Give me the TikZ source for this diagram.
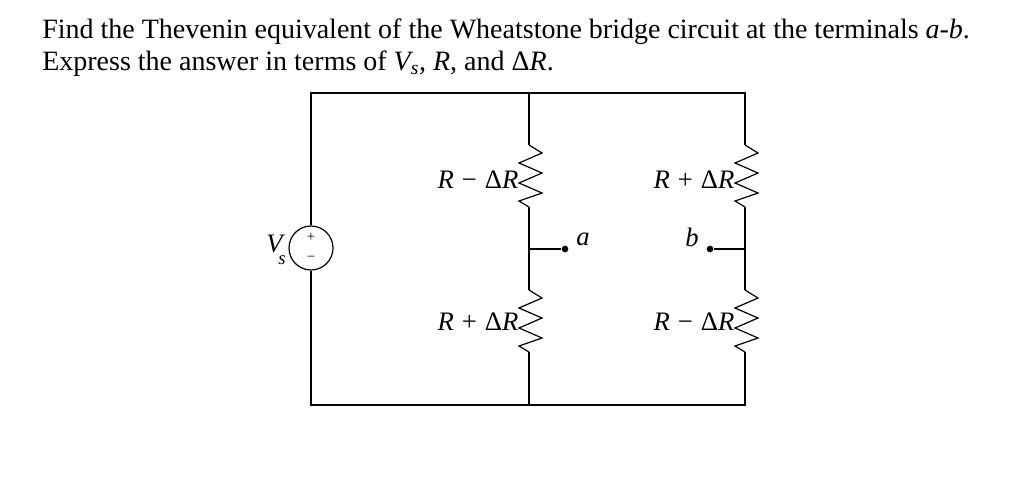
\documentclass[tikz,border=0pt]{standalone}
\usepackage{fontspec}
\setmainfont{Liberation Serif}
\usetikzlibrary{positioning}
\tikzset{
  wire/.style={black, line width=0.9pt},
  term/.style={circle, fill=black, inner sep=0pt, minimum size=5pt},
  lbl/.style={font=\fontsize{20}{22}\selectfont, inner sep=1pt},
  res/.pic={
    \coordinate (-top) at (0,0);
    \coordinate (-bot) at (0,-62);
    \draw[wire] (-top) -- (13,-8) -- (-10,-18) -- (13,-28) -- (-10,-38) -- (13,-48) -- (-10,-56) -- (-bot);
  }
}
\newcommand{\rpm}[1]{\textit{R}\hspace{0.3em}#1\hspace{0.3em}Δ\textit{R}}
\begin{document}
\begin{tikzpicture}[x=0.75pt, y=0.75pt]
			\useasboundingbox (0,0) rectangle (1024,-479);
			% question text
			\node[anchor=base west, inner sep=0pt, font=\fontsize{21}{24}\selectfont] (q1) at (42,-38) {Find the Thevenin equivalent of the Wheatstone bridge circuit at the terminals \textit{a}-\textit{b}.};
			\node[anchor=base west, inner sep=0pt, font=\fontsize{21}{24}\selectfont] (q2) at (42,-70) {Express the answer in terms of \textit{V\textsubscript{s}}, \textit{R}, and Δ\textit{R}.};
			% corners
			\coordinate (tl) at (311,-93);
			\coordinate (tm) at (529,-93);
			\coordinate (tr) at (745,-93);
			\coordinate (bl) at (311,-405);
			\coordinate (bm) at (529,-405);
			\coordinate (br) at (745,-405);
			% source
			\node[circle, draw, line width=0.9pt, minimum size=44pt*0.75, inner sep=0pt] (vs) at (311,-248) {};
			\node[font=\fontsize{11}{12}\selectfont] at (311,-237) {+};
			\node[font=\fontsize{11}{12}\selectfont] at (311,-259) {−};
			\node[lbl, anchor=east, inner sep=0pt] (vsl) at (286,-250) {\textit{V}\hspace{-0.25em}\raisebox{-1.0ex}{\textit{\fontsize{14}{15}\selectfont s}}};
			% resistors
			\pic (r1) at (529,-145) {res};
			\pic (r2) at (529,-290) {res};
			\pic (r3) at (745,-145) {res};
			\pic (r4) at (745,-290) {res};
			\node[lbl, anchor=east] at (520,-180) {\rpm{−}};
			\node[lbl, anchor=east] at (520,-322) {\rpm{+}};
			\node[lbl, anchor=east] at (736,-180) {\rpm{+}};
			\node[lbl, anchor=east] at (736,-322) {\rpm{−}};
			% terminals
			\coordinate (ja) at (529,-249);
			\coordinate (jb) at (745,-249);
			\node[term] (a) at (565,-249) {};
			\node[term] (b) at (710,-249) {};
			\node[lbl] at (583,-239) {\textit{a}};
			\node[lbl] at (692,-237) {\textit{b}};
			% wires
			\draw[wire] (vs.north) -- (tl) -- (tr) -- (r3-top);
			\draw[wire] (vs.south) -- (bl) -- (br) -- (r4-bot);
			\draw[wire] (tm) -- (r1-top);
			\draw[wire] (r1-bot) -- (r2-top);
			\draw[wire] (r2-bot) -- (bm);
			\draw[wire] (r3-bot) -- (r4-top);
			\draw[wire] (ja) -- (a);
			\draw[wire] (jb) -- (b);
		\end{tikzpicture}
\end{document}
